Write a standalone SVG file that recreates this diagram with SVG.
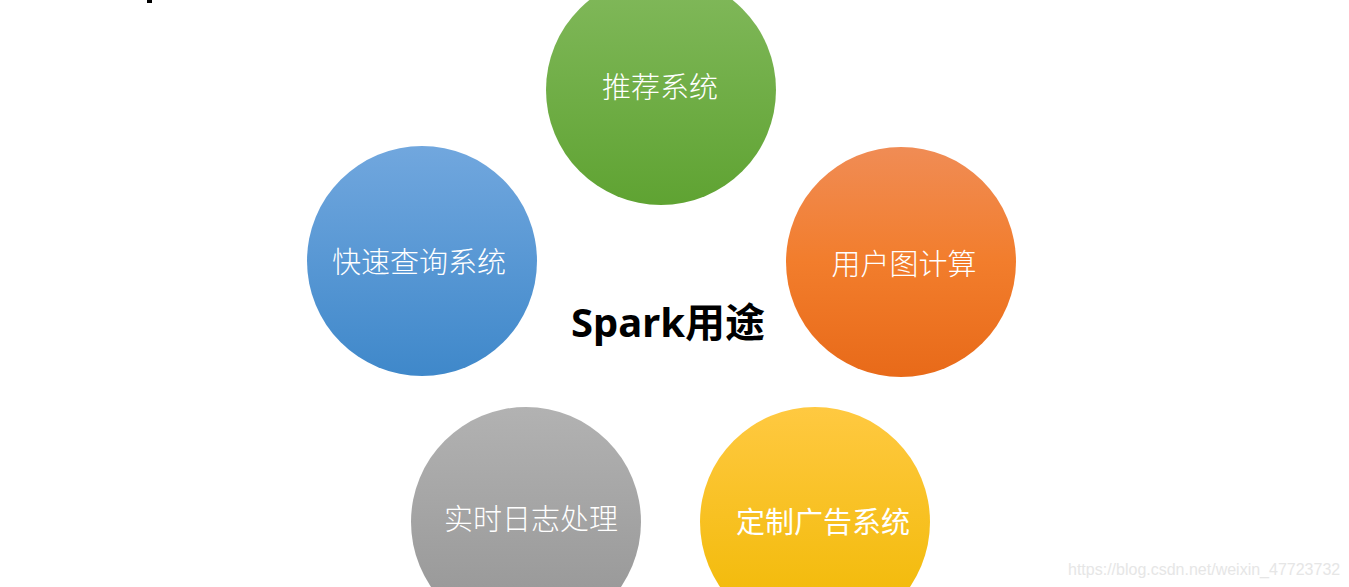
<svg xmlns="http://www.w3.org/2000/svg" width="1349" height="587" viewBox="0 0 1349 587">
<defs>
<linearGradient id="gGreen" x1="0" y1="0" x2="0" y2="1"><stop offset="0" stop-color="#82b95c"/><stop offset="1" stop-color="#5fa332"/></linearGradient>
<linearGradient id="gBlue" x1="0" y1="0" x2="0" y2="1"><stop offset="0" stop-color="#71a7de"/><stop offset="1" stop-color="#3f88ca"/></linearGradient>
<linearGradient id="gOrange" x1="0" y1="0" x2="0" y2="1"><stop offset="0" stop-color="#f08c55"/><stop offset="0.5" stop-color="#f27d2c"/><stop offset="1" stop-color="#e86a19"/></linearGradient>
<linearGradient id="gGray" x1="0" y1="0" x2="0" y2="1"><stop offset="0" stop-color="#b2b2b2"/><stop offset="1" stop-color="#949494"/></linearGradient>
<linearGradient id="gYellow" x1="0" y1="0" x2="0" y2="1"><stop offset="0" stop-color="#ffc941"/><stop offset="1" stop-color="#f0b800"/></linearGradient>
</defs>
<style>
.lbl{font-family:"Noto Sans CJK SC","Noto Sans",sans-serif;font-size:29px;fill:#ffffff;text-anchor:middle;font-weight:300}
.title{font-family:"Noto Sans","Noto Sans CJK SC",sans-serif;font-size:40px;font-weight:bold;fill:#000000;text-anchor:middle}
.wm{font-family:"Liberation Sans",Arial,sans-serif;font-size:16px;fill:#e6e6e6}
</style>
<rect width="1349" height="587" fill="#ffffff"/>
<rect x="147" y="0" width="5" height="3" fill="#000000"/>
<g id="connectors"></g>
<g id="node-recommend"><circle cx="661" cy="90" r="115" fill="url(#gGreen)"/><text class="lbl" x="660" y="98">推荐系统</text></g>
<g id="node-query"><circle cx="422" cy="261" r="115" fill="url(#gBlue)"/><text class="lbl" x="419" y="273">快速查询系统</text></g>
<g id="node-graph"><circle cx="901" cy="262" r="115" fill="url(#gOrange)"/><text class="lbl" x="904" y="275">用户图计算</text></g>
<g id="node-log"><circle cx="526" cy="522" r="115" fill="url(#gGray)"/><text class="lbl" x="531" y="530">实时日志处理</text></g>
<g id="node-ad"><circle cx="815" cy="522" r="115" fill="url(#gYellow)"/><text class="lbl" x="823" y="533" style="font-weight:400">定制广告系统</text></g>
<g id="center"><text class="title" x="668" y="337">Spark用途</text></g>
<text class="wm" x="1068" y="575">https://blog.csdn.net/weixin_47723732</text>
</svg>
